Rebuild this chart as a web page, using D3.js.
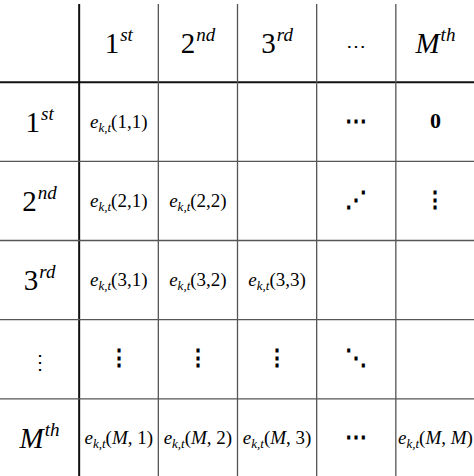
<!DOCTYPE html>
<html><head><meta charset="utf-8">
<script src="https://cdn.jsdelivr.net/npm/d3@7"></script>
<style>body{margin:0;background:#fff}</style>
</head><body>
<svg id="tbl"></svg>
<script>
// header labels: [base, superscript]
var colHeaders = [["1","st"],["2","nd"],["3","rd"],["⋯",""],["M","th"]];
var rowHeaders = [["1","st"],["2","nd"],["3","rd"],["⋮",""],["M","th"]];
// cell contents: "e:i,j" means e_{k,t}(i,j), otherwise literal text
var cells = [
    ["e:1,1", "", "", "⋯", "0"],
    ["e:2,1", "e:2,2", "", "⋰", "⋮"],
    ["e:3,1", "e:3,2", "e:3,3", "", ""],
    ["⋮", "⋮", "⋮", "⋱", ""],
    ["e:M,1", "e:M,2", "e:M,3", "⋯", "e:M,M"]
];

var width = 474, height = 476;
var svg = d3.select("#tbl").attr("width", width).attr("height", height);

var x = d3.scaleBand().domain(d3.range(6)).range([0, width + 1]);
var y = d3.scaleBand().domain(d3.range(6)).range([3, height + 2]);
var font = "'Liberation Serif', serif";

// grid lines
d3.range(1, 6).forEach(function (i) {
    svg.append("line")
        .attr("x1", x(i)).attr("x2", x(i))
        .attr("y1", 4).attr("y2", height)
        .attr("stroke", i === 1 ? "#111" : "#555")
        .attr("stroke-width", i === 1 ? 2 : 1.3);
    svg.append("line")
        .attr("x1", 0).attr("x2", width)
        .attr("y1", y(i)).attr("y2", y(i))
        .attr("stroke", i === 1 ? "#111" : "#555")
        .attr("stroke-width", i === 1 ? 2 : 1.3);
});

function header(cx, cy, h) {
    var t = svg.append("text")
        .attr("x", cx).attr("y", cy + 10)
        .attr("text-anchor", "middle")
        .attr("font-family", font)
        .attr("font-size", h[1] ? 29 : 20);
    t.append("tspan").text(h[0])
        .attr("font-style", h[0] === "M" ? "italic" : "normal");
    if (h[1]) {
        t.append("tspan").text(h[1])
            .attr("font-style", "italic")
            .attr("font-size", 19)
            .attr("dx", 1)
            .attr("dy", -12);
    }
}

function cell(cx, cy, s) {
    if (!s) return;
    var t = svg.append("text")
        .attr("x", cx).attr("y", cy + 6)
        .attr("text-anchor", "middle")
        .attr("font-family", font)
        .attr("font-size", 19);
    if (s.indexOf("e:") === 0) {
        var args = s.slice(2).split(",");
        t.append("tspan").text("e").attr("font-style", "italic");
        t.append("tspan").text("k,t").attr("font-style", "italic")
            .attr("font-size", 13).attr("dy", 4);
        t.append("tspan").text("(").attr("dy", -4);
        t.append("tspan").text(args[0])
            .attr("font-style", args[0] === "M" ? "italic" : "normal");
        t.append("tspan").text(args[0] === "M" ? ", " : ",");
        t.append("tspan").text(args[1])
            .attr("font-style", args[1] === "M" ? "italic" : "normal");
        t.append("tspan").text(")");
    } else {
        t.text(s).attr("font-size", 22).attr("font-weight", "bold");
    }
}

colHeaders.forEach(function (h, j) {
    header(x(j + 1) + x.bandwidth() / 2, y(0) + y.bandwidth() / 2, h);
});
rowHeaders.forEach(function (h, i) {
    header(x(0) + x.bandwidth() / 2, y(i + 1) + y.bandwidth() / 2, h);
});
cells.forEach(function (row, i) {
    row.forEach(function (s, j) {
        cell(x(j + 1) + x.bandwidth() / 2, y(i + 1) + y.bandwidth() / 2, s);
    });
});
</script>
</body></html>
